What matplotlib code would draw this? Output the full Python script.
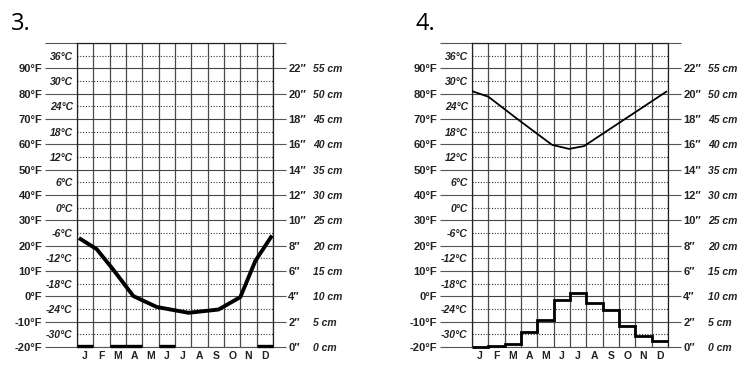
import matplotlib
matplotlib.use('Agg')
import matplotlib.pyplot as plt
import numpy as np

# ---------------- data ----------------
months = ['J', 'F', 'M', 'A', 'M', 'J', 'J', 'A', 'S', 'O', 'N', 'D']
f_ticks = [-20, -10, 0, 10, 20, 30, 40, 50, 60, 70, 80, 90]
c_ticks = [-30, -24, -18, -12, -6, 0, 6, 12, 18, 24, 30, 36]
inch_ticks = [0, 2, 4, 6, 8, 10, 12, 14, 16, 18, 20, 22]
cm_labels = ['0 cm', '5 cm', '10 cm', '15 cm', '20 cm', '25 cm', '30 cm',
             '35 cm', '40 cm', '45 cm', '50 cm', '55 cm']

# chart 3 : temperature polyline (position in months, degF) and precipitation (inches)
temp3_pos = [0.12, 1.21, 2.2, 3.45, 4.88, 6.83, 8.67, 10.0, 10.92, 11.94]
temp3_f = [23.0, 18.6, 10.7, 0.1, -4.2, -6.5, -5.2, -0.3, 14.0, 24.0]
precip3_in = [0.05, 0, 0.05, 0.05, 0, 0.05, 0, 0, 0, 0, 0, 0.05]

# chart 4
temp4_pos = [0.0, 1.0, 2.88, 4.9, 5.94, 6.86, 11.9]
temp4_f = [81.0, 78.8, 69.5, 59.8, 58.2, 59.3, 80.8]
precip4_in = [0.02, 0.1, 0.25, 1.15, 2.15, 3.75, 4.25, 3.5, 2.9, 1.65, 0.9, 0.45]

FONT = ['Liberation Sans', 'DejaVu Sans']
plt.rcParams['font.family'] = FONT

W, H = 753, 381
fig = plt.figure(figsize=(W / 100, H / 100), dpi=100)

GRID = '#4a4a4a'


# the chart's Celsius scale: 6 degC per 10 degF, 0 degC drawn at 35 degF
def f2c(f):
    return (np.asarray(f) - 35) * 0.6


def c2f(c):
    return np.asarray(c) / 0.6 + 35


def make_panel(left_px, title, title_px):
    ax = fig.add_axes([left_px / W, (H - 347) / H, 196 / W, 304 / H])
    ax.set_xlim(0, 12)
    ax.set_ylim(-20, 100)
    # month columns
    ax.set_xticks(np.arange(13), minor=True)
    ax.set_xticks(np.arange(12) + 0.5, labels=months)
    ax.tick_params(axis='x', which='major', length=0, pad=3, labelsize=7.5,
                   labelcolor='#222')
    for lab in ax.get_xticklabels():
        lab.set_fontweight('bold')
    ax.tick_params(axis='x', which='minor', length=0)
    ax.grid(True, axis='x', which='minor', color=GRID, lw=0.9)
    # fahrenheit
    ax.set_yticks(f_ticks + [100], labels=[f'{v}°F' for v in f_ticks] + [''])
    ax.tick_params(axis='y', which='major', length=23, width=0.8, color='#555',
                   pad=2, labelsize=8, labelcolor='#222')
    for lab in ax.get_yticklabels():
        lab.set_fontweight('bold')
    ax.grid(True, axis='y', which='major', color='#444', lw=0.8)
    # celsius dotted lines
    for c in c_ticks:
        ax.axhline(c2f(c), color='#333', lw=0.8, ls=(0, (1, 1.5)), zorder=1)
    sec = ax.secondary_yaxis('left', functions=(f2c, c2f))
    sec.set_yticks(c_ticks, labels=[f'{c}°C' for c in c_ticks])
    sec.tick_params(length=0, pad=3, labelsize=7.5, labelcolor='#222')
    for lab in sec.get_yticklabels():
        lab.set_fontstyle('italic')
        lab.set_fontweight('bold')
    sec.spines['left'].set_visible(False)
    for s in ['left', 'right', 'top']:
        ax.spines[s].set_color('#222')
        ax.spines[s].set_linewidth(0.9)
    ax.spines['bottom'].set_color('#555')
    # precipitation axis
    tw = ax.twinx()
    tw.set_ylim(0, 24)
    tw.set_yticks(inch_ticks + [24], labels=[f'{v}\u2033' for v in inch_ticks] + [''])
    tw.tick_params(axis='y', length=9, width=0.8, color='#555', pad=2,
                   labelsize=8, labelcolor='#222')
    for lab in tw.get_yticklabels():
        lab.set_fontweight('bold')
    for s in tw.spines.values():
        s.set_visible(False)
    cm = tw.secondary_yaxis('right', functions=(lambda v: v, lambda v: v))
    cm.set_yticks(inch_ticks, labels=cm_labels)
    cm.tick_params(length=0, pad=29, labelsize=7.5, labelcolor='#222')
    for lab in cm.get_yticklabels():
        lab.set_fontstyle('italic')
        lab.set_fontweight('bold')
    cm.spines['right'].set_visible(False)
    fig.text(title_px / W, 1 - 30 / H, title, fontsize=17, va='baseline',
             ha='left', family=['Open Sans', 'DejaVu Sans'])
    return ax, tw


ax3, tw3 = make_panel(77, '3.', 11)
ax3.plot(temp3_pos, temp3_f, color='black', lw=2.8, zorder=5,
         solid_joinstyle='round', solid_capstyle='butt')
p3 = np.array(precip3_in)
idx = np.arange(12)
mask = p3 > 0
tw3.hlines(p3[mask], idx[mask], idx[mask] + 1, color='black', lw=2.4,
           clip_on=False, zorder=5)

ax4, tw4 = make_panel(472, '4.', 416)
ax4.plot(temp4_pos, temp4_f, color='black', lw=1.3, zorder=5)
tw4.stairs(precip4_in, np.arange(13), baseline=None, color='black', lw=2.0,
           clip_on=False, zorder=5)

fig.savefig('out.png', dpi=100)
